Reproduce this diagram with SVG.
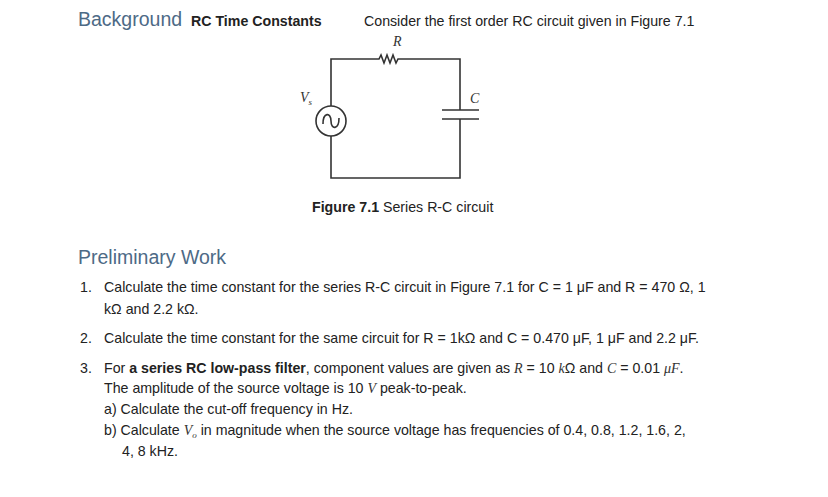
<svg xmlns="http://www.w3.org/2000/svg" width="828" height="497" viewBox="0 0 828 497">
<style>
.h{font-family:"Liberation Sans",Arial,sans-serif;fill:#4d6a86}
.t{font-family:"Liberation Sans",Arial,sans-serif;font-size:14.2px;fill:#222}
.s{font-family:"Liberation Serif",serif;font-style:italic;font-size:14px;fill:#333}
.w{fill:none;stroke:#333;stroke-width:1.6}
</style>
<rect width="828" height="497" fill="#fff"/>
<text class="h" x="78" y="26" font-size="19.5">Background</text>
<text class="t" x="191" y="26" font-weight="bold" font-size="13.5">RC Time Constants</text>
<text class="t" x="364" y="26" font-size="13">Consider the first order RC circuit given in Figure 7.1</text>
<g id="circuit">
<path class="w" d="M331,106 V59 H379 l2,-4 l3,8 l3,-8 l3,8 l3,-8 l3,8 l2,-4 H460 V110 M442,110 H479 M442,119 H479 M460,119 V178 H331 V136"/>
<circle class="w" cx="331" cy="121" r="15"/>
<path class="w" d="M323,124 C323,112 331,112 331,121 C331,130 339,130 339,118"/>
<text class="s" x="393" y="46">R</text>
<text class="s" x="300" y="102">V<tspan font-size="9" dy="3">s</tspan></text>
<text class="s" x="470" y="103">C</text>
</g>
<text class="t" x="312" y="212" font-size="13.5"><tspan font-weight="bold">Figure 7.1</tspan> Series R-C circuit</text>
<text class="h" x="78" y="264" font-size="19.5">Preliminary Work</text>
<text class="t" x="80" y="292">1.</text>
<text class="t" x="104" y="292">Calculate the time constant for the series R-C circuit in Figure 7.1 for C = 1 μF and R = 470 Ω, 1</text>
<text class="t" x="104" y="314">kΩ and 2.2 kΩ.</text>
<text class="t" x="80" y="343">2.</text>
<text class="t" x="104" y="343">Calculate the time constant for the same circuit for R = 1kΩ and C = 0.470 μF, 1 μF and 2.2 μF.</text>
<text class="t" x="80" y="373">3.</text>
<text class="t" x="104" y="373">For <tspan font-weight="bold">a series RC low-pass filter</tspan>, component values are given as <tspan class="s">R</tspan> = 10 <tspan class="s">k</tspan>Ω and <tspan class="s">C</tspan> = 0.01 <tspan class="s">μF</tspan>.</text>
<text class="t" x="104" y="393">The amplitude of the source voltage is 10 <tspan class="s">V</tspan> peak-to-peak.</text>
<text class="t" x="104" y="414">a)  Calculate the cut-off frequency in Hz.</text>
<text class="t" x="104" y="435">b)  Calculate <tspan class="s">V<tspan font-size="9" dy="3">o</tspan></tspan><tspan dy="-3"> in magnitude when the source voltage has frequencies of 0.4, 0.8, 1.2, 1.6, 2,</tspan></text>
<text class="t" x="122" y="456">4, 8 kHz.</text>
</svg>
